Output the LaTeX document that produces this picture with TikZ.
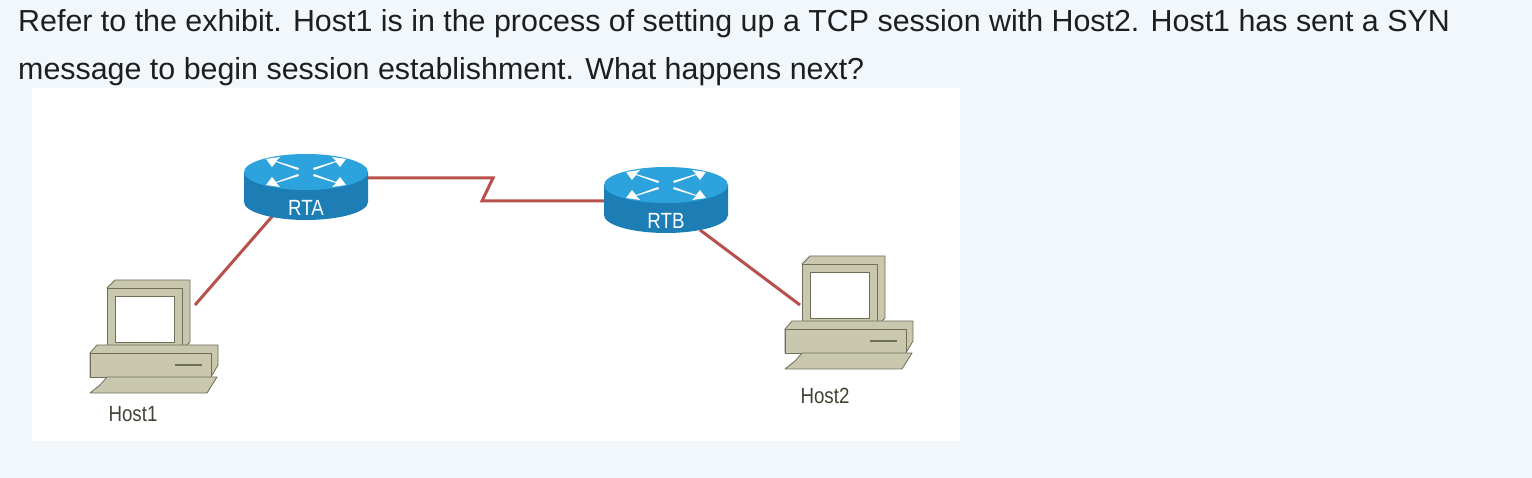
\documentclass[tikz,border=0pt]{standalone}
\usepackage{fontspec}
\setmainfont{Liberation Sans}
\newfontfamily\narrowfont[FakeStretch=0.85]{Liberation Sans}
\definecolor{bgc}{HTML}{F1F7FB}
\definecolor{linkc}{HTML}{B8504C}
\definecolor{rtop}{HTML}{2DA3DE}
\definecolor{rside}{HTML}{1C7EB5}
\definecolor{pcf}{HTML}{C9C8AE}
\definecolor{pcd}{HTML}{6E6E5A}
\definecolor{txt}{HTML}{1E1E1E}
\tikzset{
  link/.style={draw=linkc,line width=3pt},
  qtext/.style={anchor=base west,inner sep=0,font=\fontsize{30.4}{36}\selectfont,text=txt},
  lbl/.style={inner sep=0,font=\narrowfont\fontsize{22}{26}\selectfont,text=pcd!60!black},
  rlbl/.style={inner sep=0,font=\narrowfont\fontsize{22}{26}\selectfont,text=white},
  pc/.style={fill=pcf,draw=pcd,line width=0.8pt,line join=round},
}
\newcommand\myrouter[4]{% x y name label
  \begin{scope}[shift={(#1,#2)}]
    \fill[rside] (-62,0) -- (-62,30) arc[start angle=180,end angle=0,x radius=62,y radius=18] -- (62,0) -- cycle;
    \fill[rtop] (0,0) ellipse[x radius=62,y radius=18];
    \foreach \s in {1,-1}{
      \fill[white,xscale=\s] (-8,-2) -- (-30,-10) -- (-34,-5) -- (-40,-13) -- (-26,-15) -- (-30,-11) -- (-7,-4) -- cycle;
      \fill[white,xscale=\s] (8,2) -- (30,10) -- (34,5) -- (40,13) -- (26,15) -- (30,11) -- (7,4) -- cycle;
    }
    \node[rlbl] (#3) at (0,36) {#4};
  \end{scope}}
\newcommand\mypc[3]{% x y (top-left of monitor) name
  \begin{scope}[shift={(#1,#2)}]
    \path[pc] (0,8) -- (8,0) -- (83,0) -- (83,62) -- (75,70) -- cycle;
    \path[pc] (0,8) rectangle (75,70);
    \fill[white,draw=pcd,line width=0.6pt] (8,16) rectangle (67,62);
    \path[pc] (-17,73) -- (-10,65) -- (111,65) -- (111,85) -- (104,97) -- (-17,97) -- cycle;
    \path[pc] (-17,73) -- (104,73) -- (104,97) -- (-17,97) -- cycle;
    \draw[pcd,line width=1.5pt] (68,85) -- (95,85);
    \path[pc] (-7,105) -- (0,97) -- (110,97) -- (100,113) -- (-17,113) -- cycle;
  \end{scope}}
\begin{document}
\begin{tikzpicture}[x=1pt,y=-1pt]
\fill[bgc] (0,0) rectangle (1532,478);
\useasboundingbox (0,0) rectangle (1532,478);
\node[qtext] (q1) at (18,32) {Refer to the exhibit. Host1 is in the process of setting up a TCP session with Host2. Host1 has sent a SYN};
\node[qtext] (q2) at (18,80) {message to begin session establishment. What happens next?};
\fill[white] (32,88) rectangle (960,441);
\coordinate (h1a) at (195,305);
\coordinate (ra1) at (276,212);
\coordinate (ra2) at (366,178);
\coordinate (z1) at (493,178);
\coordinate (z2) at (482,201);
\coordinate (rb1) at (616,201);
\coordinate (rb2) at (700,230);
\coordinate (h2a) at (800,305);
\draw[link] (h1a) -- (ra1);
\draw[link] (ra2) -- (z1) -- (z2) -- (rb1);
\draw[link] (rb2) -- (h2a);
\myrouter{306}{172}{rta}{RTA}
\myrouter{666}{185}{rtb}{RTB}
\mypc{107}{280}{h1}
\mypc{802}{256}{h2}
\node[lbl] (host1) at (133,414) {Host1};
\node[lbl] (host2) at (825,396) {Host2};
\end{tikzpicture}
\end{document}
